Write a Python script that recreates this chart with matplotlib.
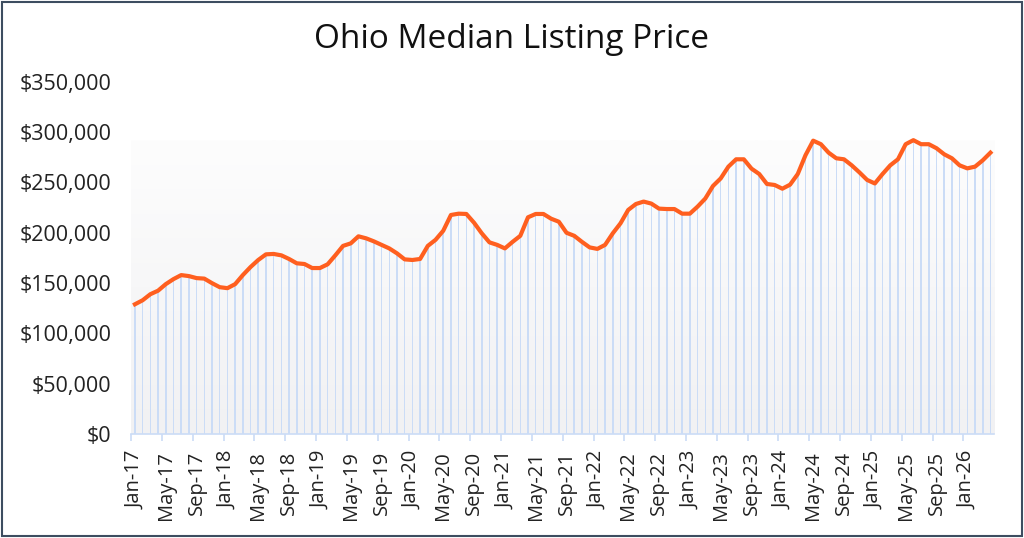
import numpy as np
import matplotlib.pyplot as plt
from matplotlib.patches import Rectangle
from matplotlib.ticker import FuncFormatter

# monthly median listing price, Jan-17 .. Apr-26
months = []
for yr in range(17, 27):
    for mo in ["Jan", "Feb", "Mar", "Apr", "May", "Jun", "Jul", "Aug", "Sep", "Oct", "Nov", "Dec"]:
        months.append(f"{mo}-{yr}")
months = months[:112]

prices = [
    129000, 133000, 139000, 142500, 149000, 154000, 158000, 157000, 155000, 154500, 150000, 146000,
    145000, 149000, 158000, 166000, 173000, 178600, 179000, 177600, 174000, 169700, 169000, 165000,
    165000, 168700, 177600, 187000, 189500, 196500, 194500, 191500, 188000, 184500, 179600, 173600,
    173000, 174000, 187000, 193000, 202000, 217700, 219000, 218700, 210000, 199500, 190500, 188000,
    184500, 191000, 197000, 215400, 218700, 218700, 214000, 211000, 200000, 197000, 191000, 185500,
    184000, 188000, 199500, 209400, 222700, 228600, 231000, 229000, 224000, 223600, 223600, 219000,
    219000, 226000, 234000, 246500, 254000, 265700, 273000, 273000, 263700, 258400, 248500, 247500,
    243800, 247800, 258400, 277000, 291500, 288000, 279600, 274000, 273000, 267000, 260000, 252500,
    249000, 258400, 267000, 273000, 288000, 292000, 288000, 288000, 284000, 278000, 274000, 267000,
    264000, 265700, 272000, 279600,
]

x = np.arange(len(prices))

fig = plt.figure(figsize=(10.24, 5.38), dpi=100)
ax = fig.add_axes([0.128, 0.193, 0.843, 0.655])

# soft grey gradient behind the bars
grad = np.linspace(0, 1, 256).reshape(-1, 1)
ax.imshow(grad, extent=[-0.5, len(prices) - 0.5, 0, max(prices)], aspect="auto",
          cmap=plt.cm.colors.LinearSegmentedColormap.from_list("g", ["#f1f1f3", "#fdfdfd"]),
          origin="lower", zorder=0)

ax.bar(x, prices, width=0.2, color="#cbdcf6", zorder=1)
ax.plot(x, prices, color="#ff5f1f", lw=3, solid_joinstyle="round", zorder=3)

ax.set_xlim(-0.5, len(prices) - 0.5)
ax.set_ylim(0, 350000)
ax.set_yticks(range(0, 350001, 50000))
ax.yaxis.set_major_formatter(FuncFormatter(lambda v, p: f"${v:,.0f}"))

ax.set_xticks(x[::4])
ax.set_xticklabels(months[::4], rotation=90)
ax.set_xticks(x[::4] - 0.5, minor=True)
ax.tick_params(axis="x", which="major", length=0, pad=12, labelsize=14.5, labelcolor="#222222")
ax.tick_params(axis="x", which="minor", length=5, color="#cbdcf6", width=1.2)
ax.tick_params(axis="y", length=0, pad=14, labelsize=15.5, labelcolor="#222222")
for lab in ax.get_xticklabels() + ax.get_yticklabels():
    lab.set_fontfamily("Open Sans")

for s in ["top", "right", "left"]:
    ax.spines[s].set_visible(False)
ax.spines["bottom"].set_color("#cbdcf6")
ax.spines["bottom"].set_linewidth(1.2)

fig.text(0.5, 0.926, "Ohio Median Listing Price", ha="center", va="center",
         fontsize=24, family="Open Sans", color="#111111")

fig.patches.append(Rectangle((0.002, 0.003), 0.996, 0.994, transform=fig.transFigure,
                             fill=False, edgecolor="#3d4d60", lw=1.5))

fig.savefig("out.png", dpi=100)
